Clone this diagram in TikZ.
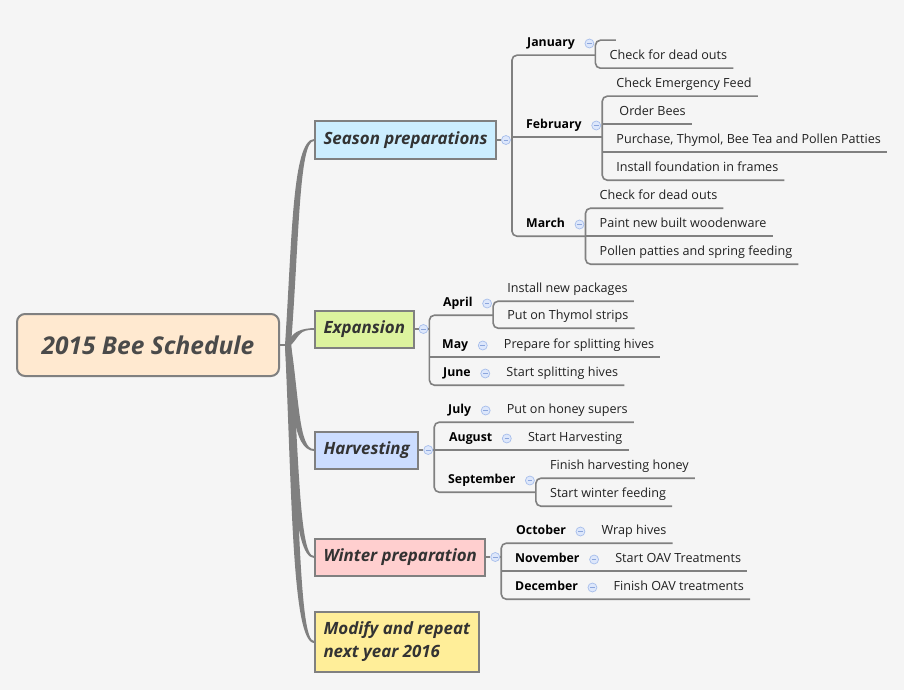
\documentclass[tikz,border=0pt]{standalone}
\usepackage{fontspec}
\setmainfont{Open Sans}
\usetikzlibrary{positioning,calc}

\definecolor{bggray}{HTML}{F5F5F5}
\definecolor{linegray}{HTML}{808080}
\definecolor{rootfill}{HTML}{FFE9D0}
\definecolor{seasonfill}{HTML}{CCEEFF}
\definecolor{expfill}{HTML}{DDF39E}
\definecolor{harvfill}{HTML}{CCDDFF}
\definecolor{winterfill}{HTML}{FFCFCF}
\definecolor{modfill}{HTML}{FFEE99}
\definecolor{foldfill}{HTML}{DDE7FB}
\definecolor{foldedge}{HTML}{A7BEEB}
\definecolor{foldminus}{HTML}{8CA6DC}
\definecolor{roottext}{HTML}{4A4A4A}
\definecolor{topictext}{HTML}{333333}

\newcommand{\trunkto}[2]{%
  \fill[trunk] let \p1=(root.east), \p2=(#1.west) in
    (\x1+5pt,\y1) .. controls (\x1+12pt,{0.5*\y1+0.5*\y2}) and (\x1+12pt,\y2) .. (\x2,{\y2+(#2)*1pt})
    -- (\x2,{\y2-(#2)*1pt}) .. controls (\x1+19pt,\y2) and (\x1+19pt,{0.5*\y1+0.5*\y2}) .. (\x1+11pt,\y1) -- cycle;}

\begin{document}
\begin{tikzpicture}
  [
    x = 1pt, y = -1pt,
    rootbox/.style = {draw=linegray, line width=2pt, rounded corners=8pt, fill=rootfill,
        minimum width=262pt, minimum height=62pt, text=roottext,
        font=\bfseries\itshape\fontsize{24.5}{29}\selectfont},
    topic/.style = {draw=linegray, line width=2pt, anchor=west, inner xsep=8.5pt,
        minimum height=37pt, text=topictext, font=\bfseries\itshape\fontsize{16.9}{23}\selectfont},
    month/.style = {anchor=base west, inner xsep=0pt, inner ysep=5.5pt, text height=9pt,
        text depth=3pt, font=\bfseries\fontsize{12.3}{15}\selectfont},
    leaf/.style = {anchor=base west, inner xsep=6pt, inner ysep=5.5pt, text height=9pt,
        text depth=3pt, text=black!87, font=\fontsize{12.6}{15}\selectfont},
    fold/.style = {circle, draw=foldedge, fill=foldfill, line width=0.7pt, minimum size=9pt,
        inner sep=0pt, path picture={\draw[foldminus, line width=0.8pt]
          ([xshift=-2.3pt]path picture bounding box.center) -- ([xshift=2.3pt]path picture bounding box.center);}},
    sub/.style = {draw=linegray, line width=1.6pt, rounded corners=5pt},
    trunk/.style = {fill=linegray},
  ]

  \useasboundingbox (0,0) rectangle (904,690);
  \fill[bggray] (0,0) rectangle (904,690);

  \node[rootbox] (root) at (148,345) {2015 Bee Schedule};

  \node[topic, fill=seasonfill] (season) at (314,140) {Season preparations};
  \node[topic, fill=expfill] (exp) at (314,329) {Expansion};
  \node[topic, fill=harvfill] (harv) at (314,450) {Harvesting};
  \node[topic, fill=winterfill] (winter) at (314,557) {Winter preparation};
  \node[topic, fill=modfill, align=left, minimum height=60pt] (modify) at (314,642) {Modify and repeat\\next year 2016};

  \draw[linegray, line width=2pt] (root.east) -- ([xshift=8pt]root.east);
  \trunkto{season}{1}
  \trunkto{exp}{1}
  \trunkto{harv}{-1}
  \trunkto{winter}{-1}
  \trunkto{modify}{-1}

  % season preparations
  \node[fold, right=4pt of season] (seasonfold) {};
  \coordinate (seasonbus) at ([xshift=6pt]seasonfold.center);
  \node[month] (jan) at (527,46.5) {January};
  \node[fold, right=9.5pt of jan] (janfold) {};
  \coordinate (janbus) at ([xshift=6pt]janfold.center);
  \node[leaf, xshift=14pt] (jan1) at (janfold.center |- 0,31.5) {};
  \node[leaf, xshift=14pt] (jan2) at (janfold.center |- 0,59.5) {Check for dead outs};
  \node[month] (feb) at (526,128.5) {February};
  \node[fold, right=9.5pt of feb] (febfold) {};
  \coordinate (febbus) at ([xshift=6pt]febfold.center);
  \node[leaf, xshift=14pt] (feb1) at (febfold.center |- 0,87.5) {Check Emergency Feed};
  \node[leaf, xshift=17pt] (feb2) at (febfold.center |- 0,115.5) {Order Bees};
  \node[leaf, xshift=14pt] (feb3) at (febfold.center |- 0,143.5) {Purchase, Thymol, Bee Tea and Pollen Patties};
  \node[leaf, xshift=14pt] (feb4) at (febfold.center |- 0,171.5) {Install foundation in frames};
  \node[month] (mar) at (526,227.5) {March};
  \node[fold, right=9.5pt of mar] (marfold) {};
  \coordinate (marbus) at ([xshift=6pt]marfold.center);
  \node[leaf, xshift=14pt] (mar1) at (marfold.center |- 0,199.5) {Check for dead outs};
  \node[leaf, xshift=14pt] (mar2) at (marfold.center |- 0,227.5) {Paint new built woodenware};
  \node[leaf, xshift=14pt] (mar3) at (marfold.center |- 0,255.5) {Pollen patties and spring feeding};

  \draw[sub] (season.east) -- (seasonfold.west);
  \draw[sub] (seasonfold.east) -- (seasonbus);
  \draw[sub] (janbus |- jan.south) -- (seasonbus |- jan.south) -- (seasonbus |- mar.south) -- (marbus |- mar.south);
  \draw[sub] (seasonbus |- feb.south) -- (febbus |- feb.south);
  \draw[sub] (jan1.south east) -- (janbus |- jan1.south) -- (janbus |- jan2.south) -- (jan2.south east);
  \draw[sub] (feb1.south east) -- (febbus |- feb1.south) -- (febbus |- feb4.south) -- (feb4.south east);
  \draw[sub] (febbus |- feb2.south) -- (feb2.south east);
  \draw[sub] (febbus |- feb3.south) -- (feb3.south east);
  \draw[sub] (mar1.south east) -- (marbus |- mar1.south) -- (marbus |- mar3.south) -- (mar3.south east);
  \draw[sub] (marbus |- mar2.south) -- (mar2.south east);

  % expansion
  \node[fold, right=4pt of exp] (expfold) {};
  \coordinate (expbus) at ([xshift=6pt]expfold.center);
  \node[month] (apr) at (443,306.5) {April};
  \node[fold, right=9.5pt of apr] (aprfold) {};
  \coordinate (aprbus) at ([xshift=6pt]aprfold.center);
  \node[leaf, xshift=14pt] (apr1) at (aprfold.center |- 0,292.5) {Install new packages};
  \node[leaf, xshift=14pt] (apr2) at (aprfold.center |- 0,319.5) {Put on Thymol strips};
  \node[month] (may) at (442,348.5) {May};
  \node[fold, right=9.5pt of may] (mayfold) {};
  \node[leaf, xshift=15pt] (may1) at (mayfold.center |- may.base) {Prepare for splitting hives};
  \node[month] (jun) at (443,376.5) {June};
  \node[fold, right=9.5pt of jun] (junfold) {};
  \node[leaf, xshift=15pt] (jun1) at (junfold.center |- jun.base) {Start splitting hives};

  \draw[sub] (exp.east) -- (expfold.west);
  \draw[sub] (expfold.east) -- (expbus);
  \draw[sub] (aprbus |- apr.south) -- (expbus |- apr.south) -- (expbus |- jun.south) -- (jun1.south east);
  \draw[sub] (expbus |- may.south) -- (may1.south east);
  \draw[sub] (apr1.south east) -- (aprbus |- apr1.south) -- (aprbus |- apr2.south) -- (apr2.south east);

  % harvesting
  \node[fold, right=4pt of harv] (harvfold) {};
  \coordinate (harvbus) at ([xshift=6pt]harvfold.center);
  \node[month] (jul) at (448,413.5) {July};
  \node[fold, right=9.5pt of jul] (julfold) {};
  \node[leaf, xshift=15pt] (jul1) at (julfold.center |- jul.base) {Put on honey supers};
  \node[month] (aug) at (449,441.5) {August};
  \node[fold, right=9.5pt of aug] (augfold) {};
  \node[leaf, xshift=15pt] (aug1) at (augfold.center |- aug.base) {Start Harvesting};
  \node[month] (sep) at (448,483.5) {September};
  \node[fold, right=9.5pt of sep] (sepfold) {};
  \coordinate (sepbus) at ([xshift=6pt]sepfold.center);
  \node[leaf, xshift=14pt] (sep1) at (sepfold.center |- 0,469.5) {Finish harvesting honey};
  \node[leaf, xshift=14pt] (sep2) at (sepfold.center |- 0,497.5) {Start winter feeding};

  \draw[sub] (harv.east) -- (harvfold.west);
  \draw[sub] (harvfold.east) -- (harvbus);
  \draw[sub] (jul1.south east) -- (harvbus |- jul.south) -- (harvbus |- sep.south) -- (sepbus |- sep.south);
  \draw[sub] (harvbus |- aug.south) -- (aug1.south east);
  \draw[sub] (sep1.south east) -- (sepbus |- sep1.south) -- (sepbus |- sep2.south) -- (sep2.south east);

  % winter preparation
  \node[fold, right=4pt of winter] (winterfold) {};
  \coordinate (winterbus) at ([xshift=6pt]winterfold.center);
  \node[month] (oct) at (516,534.5) {October};
  \node[fold, right=9.5pt of oct] (octfold) {};
  \node[leaf, xshift=15pt] (oct1) at (octfold.center |- oct.base) {Wrap hives};
  \node[month] (nov) at (515,562.5) {November};
  \node[fold, right=9.5pt of nov] (novfold) {};
  \node[leaf, xshift=15pt] (nov1) at (novfold.center |- nov.base) {Start OAV Treatments};
  \node[month] (dec) at (515,590.5) {December};
  \node[fold, right=9.5pt of dec] (decfold) {};
  \node[leaf, xshift=15pt] (dec1) at (decfold.center |- dec.base) {Finish OAV treatments};

  \draw[sub] (winter.east) -- (winterfold.west);
  \draw[sub] (winterfold.east) -- (winterbus);
  \draw[sub] (oct1.south east) -- (winterbus |- oct.south) -- (winterbus |- dec.south) -- (dec1.south east);
  \draw[sub] (winterbus |- nov.south) -- (nov1.south east);
\end{tikzpicture}
\end{document}
